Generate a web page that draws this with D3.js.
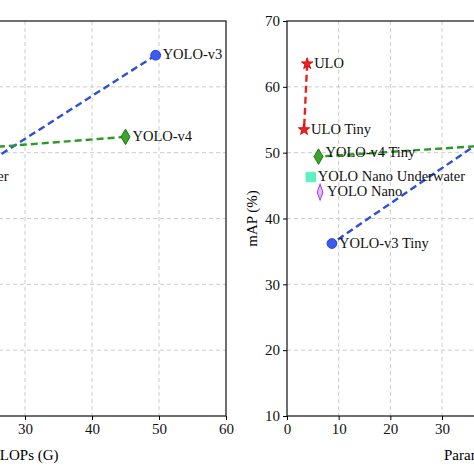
<!DOCTYPE html><html><head><script src="https://cdn.jsdelivr.net/npm/d3@7"></script>
<style>body{margin:0;background:#fff}svg text{font-family:"Liberation Serif","Times New Roman","DejaVu Serif",serif !important}</style></head><body><svg id="c" width="474" height="474"></svg>
<script>
const models=["YOLO-v3","YOLO-v4","ULO","ULO Tiny","YOLO-v4 Tiny","YOLO Nano Underwater","YOLO Nano","YOLO-v3 Tiny"];
const mAP=[64.8,52.4,63.5,53.5,49.4,46.3,44.0,36.2];
const flops=[49.5,45.0,3.0,2.5,6.9,4.5,4.5,5.6];
const params=[61.9,64.0,3.9,3.3,6.1,4.6,6.4,8.7];
const xTicks=[0,10,20,30,40,50,60];
const yTicks=[10,20,30,40,50,60,70];
const links=[["YOLO-v3","YOLO-v3 Tiny","#2b4fd8"],["YOLO-v4","YOLO-v4 Tiny","#2e9a25"],["ULO","ULO Tiny","#e8231f"]];
const style={"YOLO-v3":["circle","#3a5cf0","#2b3fd8"],"YOLO-v3 Tiny":["circle","#3a5cf0","#2b3fd8"],
"YOLO-v4":["diamond","#3aa52a","#1f7a18"],"YOLO-v4 Tiny":["diamond","#3aa52a","#1f7a18"],
"ULO":["star","#f02020","#d01010"],"ULO Tiny":["star","#f02020","#d01010"],
"YOLO Nano Underwater":["square","#5ff0c0","#5ff0c0"],"YOLO Nano":["diamond","#e8b8ff","#9a30e0"]};
const FF='"Liberation Serif","Times New Roman","DejaVu Serif",serif';
const svg=d3.select("#c");
const y=d3.scaleLinear().domain([10,70]).range([416,21]);
function panel(xv,x0,x1,name,yaxis){
  const x=d3.scaleLinear().domain([0,60]).range([x0,x1]);
  const g=svg.append("g");
  g.selectAll(".gx").data(xTicks.slice(1,-1)).join("line").attr("x1",d=>x(d)).attr("x2",d=>x(d)).attr("y1",21).attr("y2",416).attr("stroke","#ccc").attr("stroke-dasharray","4,3");
  g.selectAll(".gy").data(yTicks.slice(1,-1)).join("line").attr("x1",x0).attr("x2",x1).attr("y1",d=>y(d)).attr("y2",d=>y(d)).attr("stroke","#ccc").attr("stroke-dasharray","4,3");
  g.append("rect").attr("x",x0).attr("y",21).attr("width",x1-x0).attr("height",395).attr("fill","none").attr("stroke","#222").attr("stroke-width",1.3);
  const xa=g.append("g").attr("transform","translate(0,416)").call(d3.axisBottom(x).tickValues(xTicks).tickSize(4).tickSizeOuter(0));
  xa.select(".domain").remove();
  xa.selectAll("text").attr("font-size",15).attr("fill","#111").style("font-family",FF);
  if(yaxis){const ya=g.append("g").attr("transform",`translate(${x0},0)`).call(d3.axisLeft(y).tickValues(yTicks).tickSize(4).tickSizeOuter(0));
    ya.select(".domain").remove();ya.selectAll("text").attr("font-size",15).attr("fill","#111").style("font-family",FF);
    g.append("text").attr("transform",`translate(${x0-30},${(21+416)/2}) rotate(-90)`).attr("text-anchor","middle").attr("font-size",15).style("font-family",FF).text("mAP (%)");}
  g.append("text").attr("x",name[1]).attr("y",460).attr("text-anchor",name[2]).attr("font-size",15).style("font-family",FF).text(name[0]);
  const P=m=>{const i=models.indexOf(m);return [x(xv[i]),y(mAP[i])];};
  links.forEach(([a,b,c])=>{const p=P(a),q=P(b);g.append("line").attr("x1",p[0]).attr("y1",p[1]).attr("x2",q[0]).attr("y2",q[1]).attr("stroke",c).attr("stroke-width",2.4).attr("stroke-dasharray","7,4");});
  const sym={circle:d3.symbolCircle,diamond:d3.symbolDiamond,star:d3.symbolStar,square:d3.symbolSquare};
  const size={circle:75,diamond:70,star:40,square:90};
  models.forEach(m=>{const [px,py]=P(m),s=style[m];
    g.append("path").attr("d",d3.symbol(sym[s[0]],m=="YOLO Nano"?45:size[s[0]])()).attr("transform",`translate(${px},${py})`+(m=="YOLO Nano"?" scale(0.8,1.3)":"")).attr("fill",s[1]).attr("stroke",s[2]).attr("stroke-width",1);
    g.append("text").attr("x",px+7).attr("y",py+(m=="YOLO-v4 Tiny"?0:4)).attr("font-size",14.5).attr("fill","#111").style("font-family",FF).text(m);});
}
panel(flops,-176,226,["FLOPs (G)",25,"middle"],false);
panel(params,287,597,["Parameters (M)",444,"start"],true);
</script></body></html>
